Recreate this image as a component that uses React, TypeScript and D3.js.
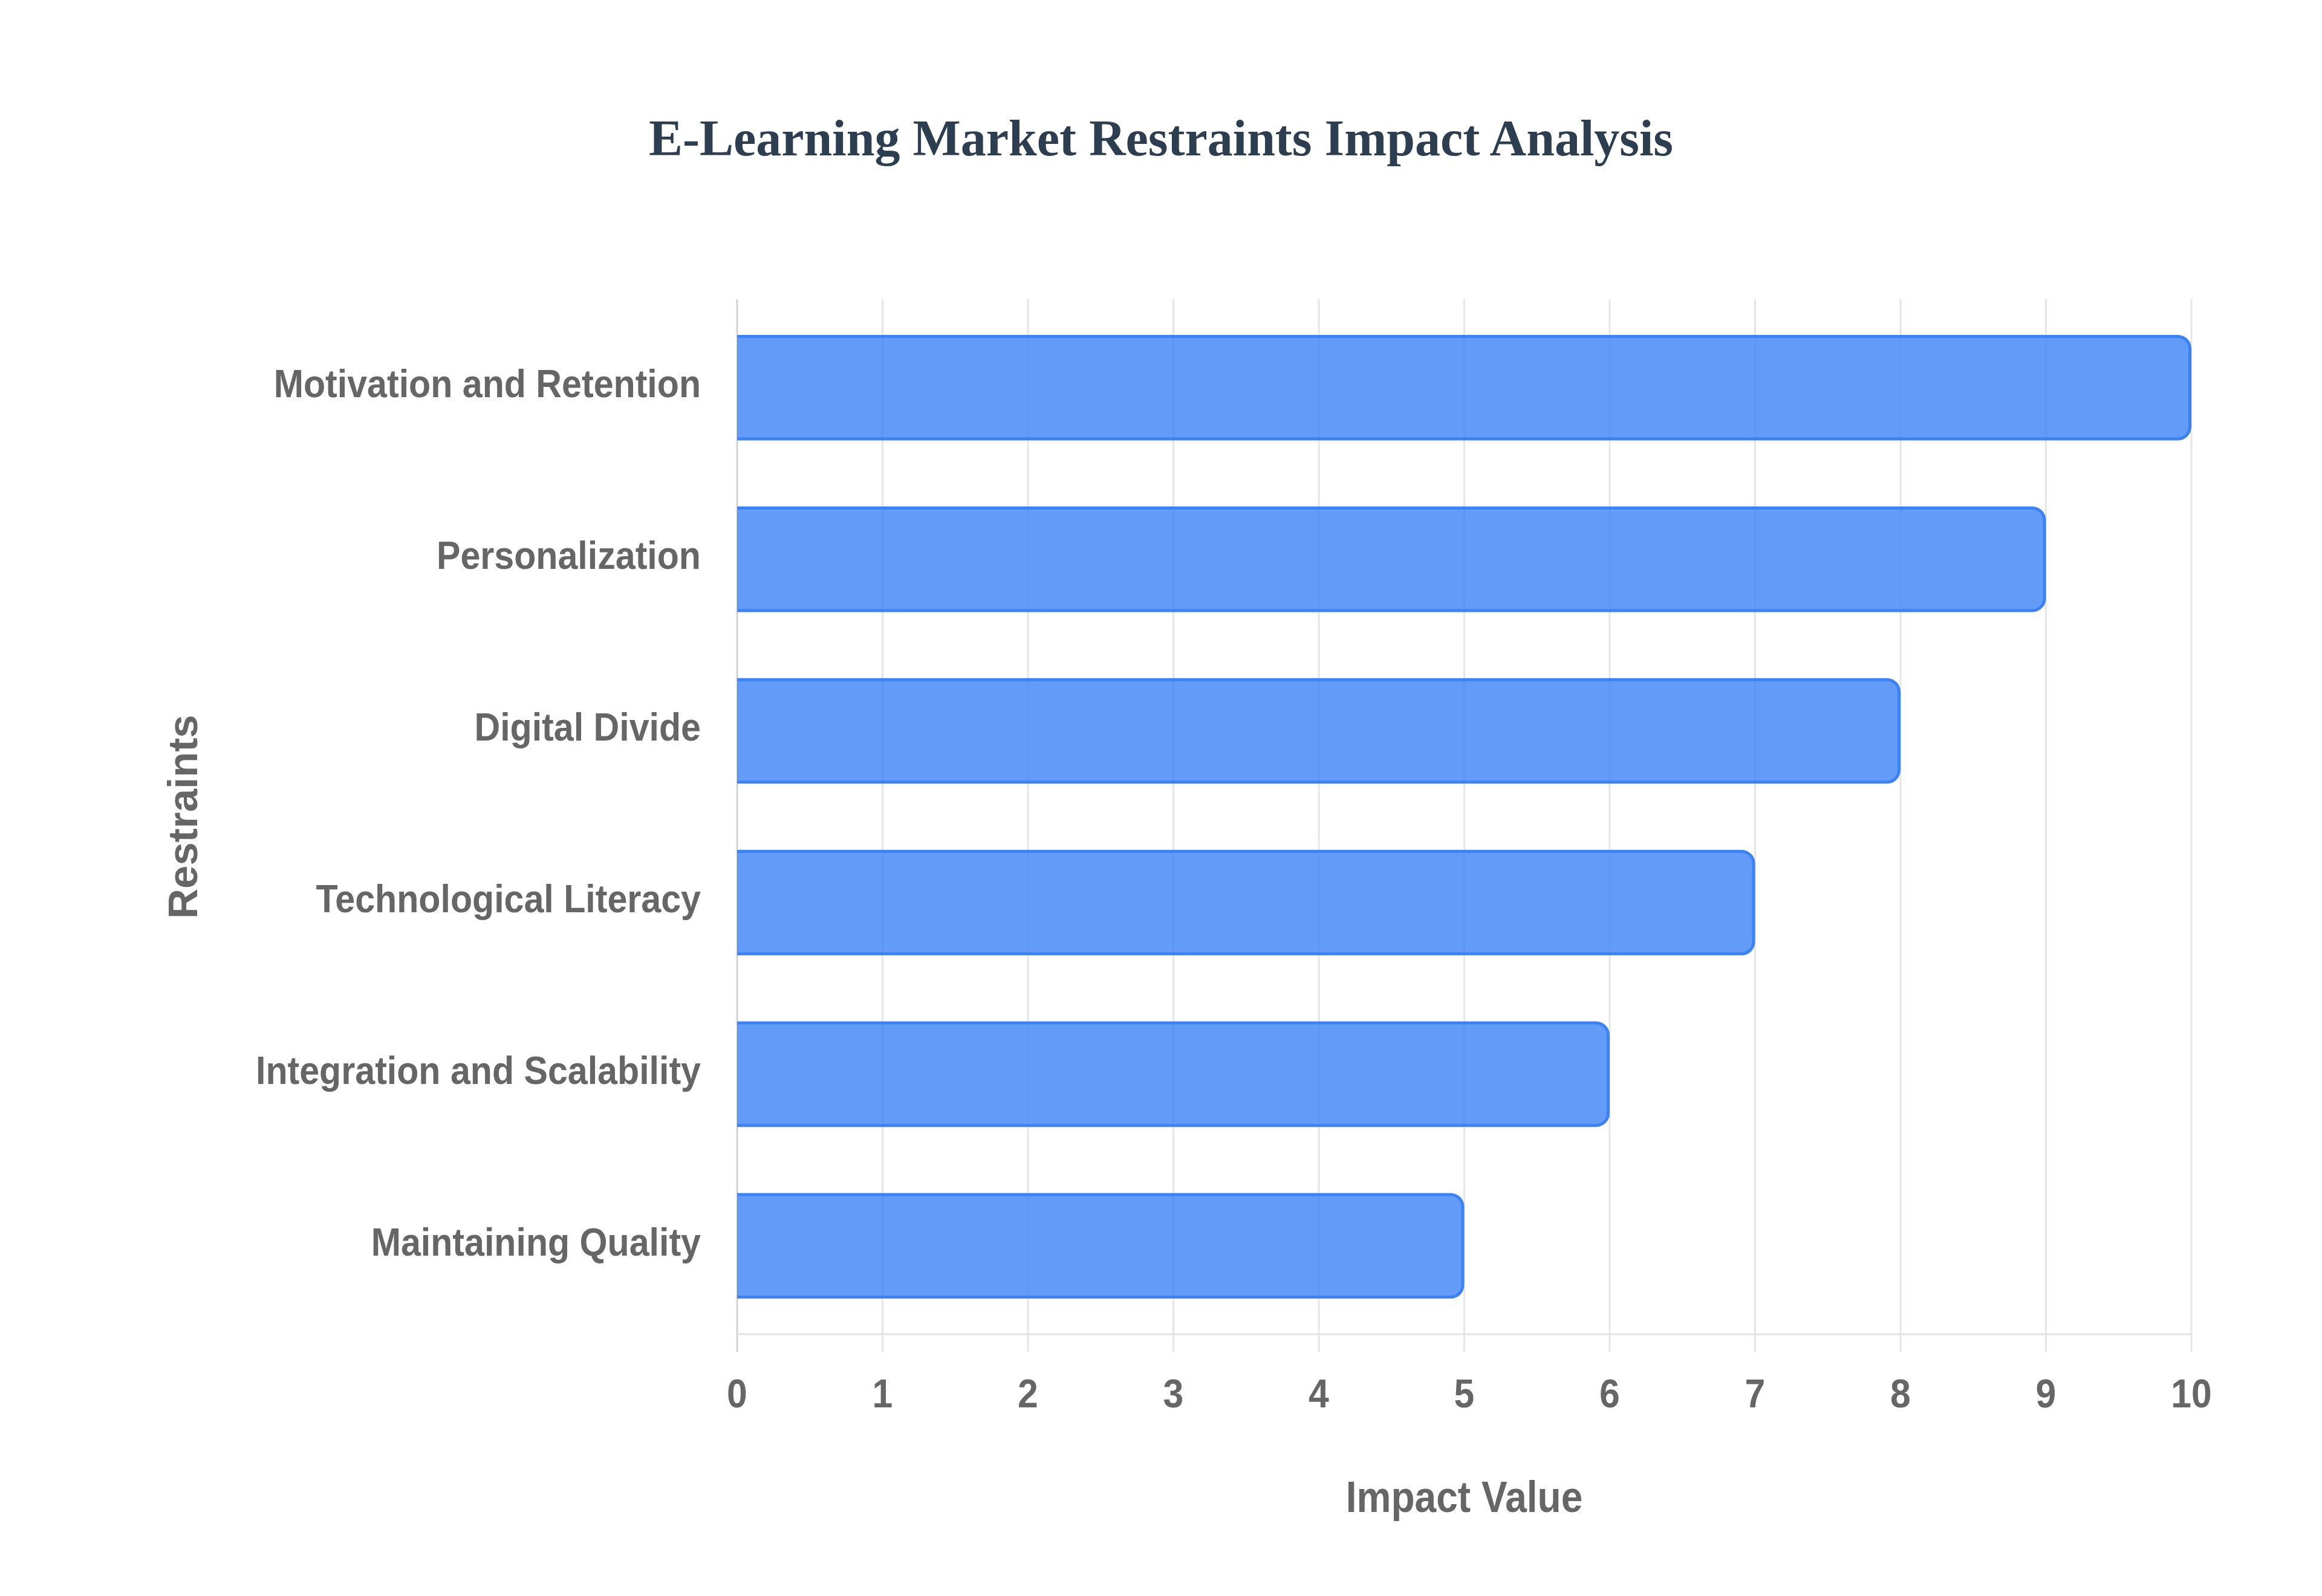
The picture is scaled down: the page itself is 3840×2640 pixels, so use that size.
import * as d3 from 'd3'

const categories = [
  'Motivation and Retention',
  'Personalization',
  'Digital Divide',
  'Technological Literacy',
  'Integration and Scalability',
  'Maintaining Quality'
]
const impactValues = [10, 9, 8, 7, 6, 5]
const xTicks = [0, 1, 2, 3, 4, 5, 6, 7, 8, 9, 10]

const W = 3840
const H = 2640
const margin = { top: 495, right: 216, bottom: 433, left: 1219 }
const sansFont = '"Liberation Sans", Arial, Helvetica, sans-serif'

// rounded on the right end only, open on the left (like chart.js borderSkipped)
function barPath(x0: number, x1: number, y0: number, y1: number, r: number) {
  const rr = Math.min(r, (x1 - x0) / 2, (y1 - y0) / 2)
  return `M${x0},${y0}H${x1 - rr}A${rr},${rr} 0 0 1 ${x1},${y0 + rr}V${y1 - rr}A${rr},${rr} 0 0 1 ${x1 - rr},${y1}H${x0}`
}

export default function App() {
  const innerW = W - margin.left - margin.right
  const innerH = H - margin.top - margin.bottom

  const x = d3.scaleLinear().domain([0, 10]).range([0, innerW])
  const y = d3.scaleBand<string>()
    .domain(categories)
    .range([0, innerH])
    .paddingInner(0.385)
    .paddingOuter(0.2075)

  const sw = 5

  return (
    <div style={{ position: 'fixed', left: 0, top: 0 }}>
      <svg width={W} height={H} style={{ display: 'block', background: '#fff' }}>
        <text
          x={W / 2}
          y={257}
          textAnchor="middle"
          fontFamily='"Liberation Serif", "Times New Roman", serif'
          fontWeight="bold"
          fontSize={84}
          fill="#2c3e50"
        >
          E-Learning Market Restraints Impact Analysis
        </text>

        <g transform={`translate(${margin.left},${margin.top})`}>
          {/* vertical grid + ticks */}
          {xTicks.map(t => (
            <line
              key={'g' + t}
              x1={x(t)}
              x2={x(t)}
              y1={0}
              y2={innerH + 29}
              stroke={t === 0 ? '#d4d4d4' : '#e6e6e6'}
              strokeWidth={3}
            />
          ))}
          {/* bottom axis line */}
          <line x1={0} x2={innerW} y1={innerH} y2={innerH} stroke="#e3e3e3" strokeWidth={3} />

          {/* bars */}
          {categories.map((c, i) => {
            const y0 = y(c)!
            const h = y.bandwidth()
            return (
              <path
                key={c}
                d={barPath(x(0), x(impactValues[i]) - sw / 2, y0 + sw / 2, y0 + h - sw / 2, 20)}
                fill="rgba(59,130,246,0.8)"
                stroke="#3b82f6"
                strokeWidth={sw}
              />
            )
          })}

          {/* y labels */}
          {categories.map(c => (
            <text
              key={'l' + c}
              transform={`translate(-60,${y(c)! + y.bandwidth() / 2 + 16}) scale(0.91,1)`}
              textAnchor="end"
              fontFamily={sansFont}
              fontWeight="bold"
              fontSize={65}
              fill="#666"
            >
              {c}
            </text>
          ))}

          {/* x tick labels */}
          {xTicks.map(t => (
            <text
              key={'t' + t}
              transform={`translate(${x(t)},${innerH + 121}) scale(0.92,1)`}
              textAnchor="middle"
              fontFamily={sansFont}
              fontWeight="bold"
              fontSize={66}
              fill="#666"
            >
              {t}
            </text>
          ))}

          {/* axis titles */}
          <text
            transform={`translate(${innerW / 2},${innerH + 294}) scale(0.89,1)`}
            textAnchor="middle"
            fontFamily={sansFont}
            fontWeight="bold"
            fontSize={72}
            fill="#666"
          >
            Impact Value
          </text>
          <text
            transform={`translate(${326 - margin.left},${innerH / 2}) rotate(-90)`}
            textAnchor="middle"
            fontFamily={sansFont}
            fontWeight="bold"
            fontSize={69}
            fill="#666"
          >
            Restraints
          </text>
        </g>
      </svg>
    </div>
  )
}
